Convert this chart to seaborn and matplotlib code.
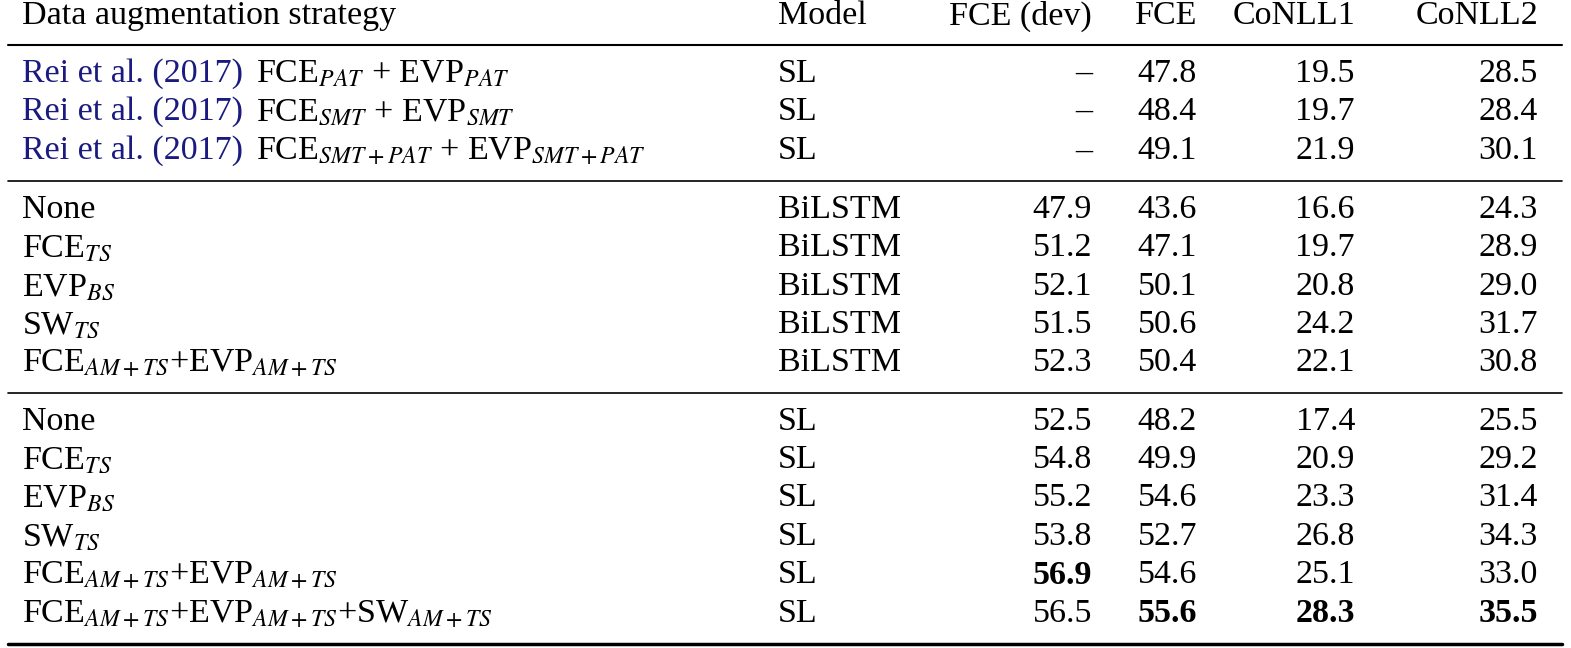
import matplotlib
matplotlib.use("Agg")
import matplotlib.pyplot as plt
import seaborn as sns

sns.set_theme(style="white")
plt.rcParams['font.family'] = ['Liberation Serif', 'DejaVu Serif']
plt.rcParams['mathtext.fontset'] = 'stix'
plt.rcParams['text.color'] = 'black'

headers = ["Data augmentation strategy", "Model", "FCE (dev)", "FCE", "CoNLL1", "CoNLL2"]
cite = "Rei et al. (2017)"
strategies = [
    r"FCE$_{PAT}$ + EVP$_{PAT}$",
    r"FCE$_{SMT}$ + EVP$_{SMT}$",
    r"FCE$_{SMT+PAT}$ + EVP$_{SMT+PAT}$",
    "None", r"FCE$_{TS}$", r"EVP$_{BS}$", r"SW$_{TS}$", r"FCE$_{AM+TS}$+EVP$_{AM+TS}$",
    "None", r"FCE$_{TS}$", r"EVP$_{BS}$", r"SW$_{TS}$", r"FCE$_{AM+TS}$+EVP$_{AM+TS}$",
    r"FCE$_{AM+TS}$+EVP$_{AM+TS}$+SW$_{AM+TS}$",
]
models = ["SL"] * 3 + ["BiLSTM"] * 5 + ["SL"] * 6
fce_dev = ["–", "–", "–", "47.9", "51.2", "52.1", "51.5", "52.3", "52.5", "54.8", "55.2", "53.8", "56.9", "56.5"]
fce = ["47.8", "48.4", "49.1", "43.6", "47.1", "50.1", "50.6", "50.4", "48.2", "49.9", "54.6", "52.7", "54.6", "55.6"]
conll1 = ["19.5", "19.7", "21.9", "16.6", "19.7", "20.8", "24.2", "22.1", "17.4", "20.9", "23.3", "26.8", "25.1", "28.3"]
conll2 = ["28.5", "28.4", "30.1", "24.3", "28.9", "29.0", "31.7", "30.8", "25.5", "29.2", "31.4", "34.3", "33.0", "35.5"]
bold = {(12, 2), (13, 3), (13, 4), (13, 5)}

row_y = [74, 112, 151, 210, 248, 287, 325, 363, 422, 460, 498, 537, 575, 614]
fs = 24.5

fig = plt.figure(figsize=(15.71, 6.48), dpi=100)
ax = fig.add_axes([0, 0, 1, 1])
ax.set_xlim(0, 1571)
ax.set_ylim(648, 0)
ax.axis("off")

hx = [22, 778, 1092, 1197, 1355, 1538]
ha = ["left", "left", "right", "right", "right", "right"]
for h, x, a in zip(headers, hx, ha):
    ax.text(x, 16, h, fontsize=fs, ha=a, va="center", color="black")

for lw, y in [(1.5, 45), (1.2, 181), (1.2, 393)]:
    ax.plot([8, 1562], [y, y], color="black", lw=lw)
ax.plot([8, 1562], [644, 644], color="black", lw=2.5)

for i, y in enumerate(row_y):
    if i < 3:
        ax.text(22, y, cite, fontsize=fs, ha="left", va="center", color="#1a1a80")
        ax.text(256, y, strategies[i], fontsize=fs, ha="left", va="center", color="black")
    else:
        ax.text(22, y, strategies[i], fontsize=fs, ha="left", va="center", color="black")
    ax.text(778, y, models[i], fontsize=fs, ha="left", va="center", color="black")
    for j, col in zip(range(2, 6), [fce_dev, fce, conll1, conll2]):
        ax.text(hx[j], y, col[i], fontsize=fs, ha="right", va="center", color="black",
                fontweight="bold" if (i, j) in bold else "normal")

fig.savefig("out.png", dpi=100, facecolor="white")
